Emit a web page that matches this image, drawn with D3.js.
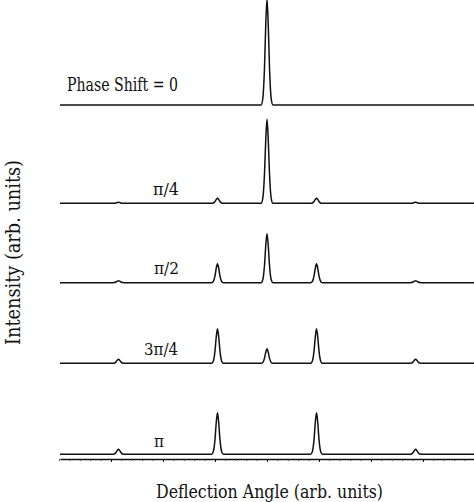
<!DOCTYPE html>
<html><head><meta charset="utf-8">
<script src="https://cdn.jsdelivr.net/npm/d3@7"></script>
<style>
html,body{margin:0;padding:0;background:#fff;}
svg{display:block;}
</style></head>
<body>
<svg id="chart" width="474" height="502"></svg>
<script>
// ---- data ----
// phase shift labels (top to bottom)
const phaseLabels = ["Phase Shift = 0", "π/4", "π/2", "3π/4", "π"];
// vertical offset of each trace (arb. intensity units)
const traceOffsets = [3.493, 2.51, 1.716, 0.91, 0.0];
// diffraction orders present (deflection angle, order units)
const orders = [-3, -1, 0, 1, 3];
// peak intensities per trace, by order [-3,-1,0,1,3]
const peakHeights = [
  [0.0,  0.0,   1.06, 0.0,   0.0 ],
  [0.01, 0.05,  0.84, 0.05,  0.01],
  [0.02, 0.19,  0.49, 0.19,  0.02],
  [0.04, 0.345, 0.145,0.345, 0.04],
  [0.05, 0.415, 0.0,  0.415, 0.05]
];
// measured line shape of one peak: angle offset and relative height
const profileOffsets = [-0.12, -0.085, -0.05, -0.025, 0, 0.025, 0.05, 0.085, 0.12];
const profileShape   = [0, 0.06, 0.36, 0.76, 1, 0.76, 0.36, 0.06, 0];
// axis ticks (deflection angle)
const majorTicks = [-3.15, -2.1, -1.05, 0, 1.05, 2.1, 3.15];
const minorTicks = [-4.2,-3.99,-3.78,-3.57,-3.36,-2.94,-2.73,-2.52,-2.31,-1.89,-1.68,-1.47,-1.26,
  -0.84,-0.63,-0.42,-0.21,0.21,0.42,0.63,0.84,1.26,1.47,1.68,1.89,2.31,2.52,2.73,2.94,
  3.36,3.57,3.78,3.99];
const xDomain = [-4.18, 4.18];

// ---- drawing ----
const FONT = "DejaVu Serif, serif";
const svg = d3.select("#chart");
const x = d3.scaleLinear().domain(xDomain).range([60, 474]);
const y = d3.scaleLinear().domain([-0.047, 4.543]).range([459, 0]);

const line = d3.line().x(d => x(d[0])).y(d => y(d[1])).curve(d3.curveMonotoneX);

peakHeights.forEach((hs, i) => {
  const off = traceOffsets[i];
  let pts = [[xDomain[0], off], [xDomain[1], off]];
  orders.forEach((o, j) => {
    if (hs[j] > 0) {
      profileOffsets.forEach((d, k) => pts.push([o + d, off + hs[j] * profileShape[k]]));
    }
  });
  pts.sort((a, b) => a[0] - b[0]);
  svg.append("path").attr("d", line(pts))
    .attr("fill", "none").attr("stroke", "#111").attr("stroke-width", 1.5)
    .attr("stroke-linejoin", "round");
});

// bottom axis
const axis = d3.axisBottom(x).tickValues(majorTicks).tickSize(3).tickSizeOuter(0).tickFormat("");
const gAx = svg.append("g").attr("transform", `translate(0,${y(-0.047)})`).call(axis);
gAx.select(".domain").attr("stroke", "#111").attr("stroke-width", 1.7);
gAx.selectAll(".tick line").attr("stroke", "#111").attr("stroke-width", 1);
const axisMinor = d3.axisBottom(x).tickValues(minorTicks).tickSize(2).tickSizeOuter(0).tickFormat("");
const gAx2 = svg.append("g").attr("transform", `translate(0,${y(-0.047)})`).call(axisMinor);
gAx2.select(".domain").remove();
gAx2.selectAll(".tick line").attr("stroke", "#333").attr("stroke-width", 0.8);

// trace labels
const labelSpec = [
  {anchor:"end", xp:178, dy:-14.3, size:18, len:111},
  {anchor:"end", xp:179, dy:-8.3, size:16, len:26},
  {anchor:"end", xp:179, dy:-8.7, size:16, len:25},
  {anchor:"end", xp:178, dy:-8.3, size:16, len:34},
  {anchor:"start", xp:154, dy:-7.3, size:16, len:10}
];
phaseLabels.forEach((t, i) => {
  const s = labelSpec[i];
  svg.append("text").text(t)
    .attr("x", s.xp).attr("y", y(traceOffsets[i]) + s.dy)
    .attr("text-anchor", s.anchor)
    .attr("font-family", FONT).attr("fill", "#111")
    .attr("font-size", s.size)
    .attr("textLength", s.len).attr("lengthAdjust", "spacingAndGlyphs");
});

// axis titles
svg.append("text").text("Deflection Angle (arb. units)")
  .attr("x", 269.5).attr("y", 498).attr("text-anchor", "middle")
  .attr("font-family", FONT).attr("fill", "#111")
  .attr("font-size", 18).attr("textLength", 227).attr("lengthAdjust", "spacingAndGlyphs");
svg.append("text").text("Intensity (arb. units)")
  .attr("transform", "translate(20,252.5) rotate(-90)")
  .attr("text-anchor", "middle")
  .attr("font-family", FONT).attr("fill", "#111")
  .attr("font-size", 21).attr("textLength", 185).attr("lengthAdjust", "spacingAndGlyphs");
</script>
</body></html>
